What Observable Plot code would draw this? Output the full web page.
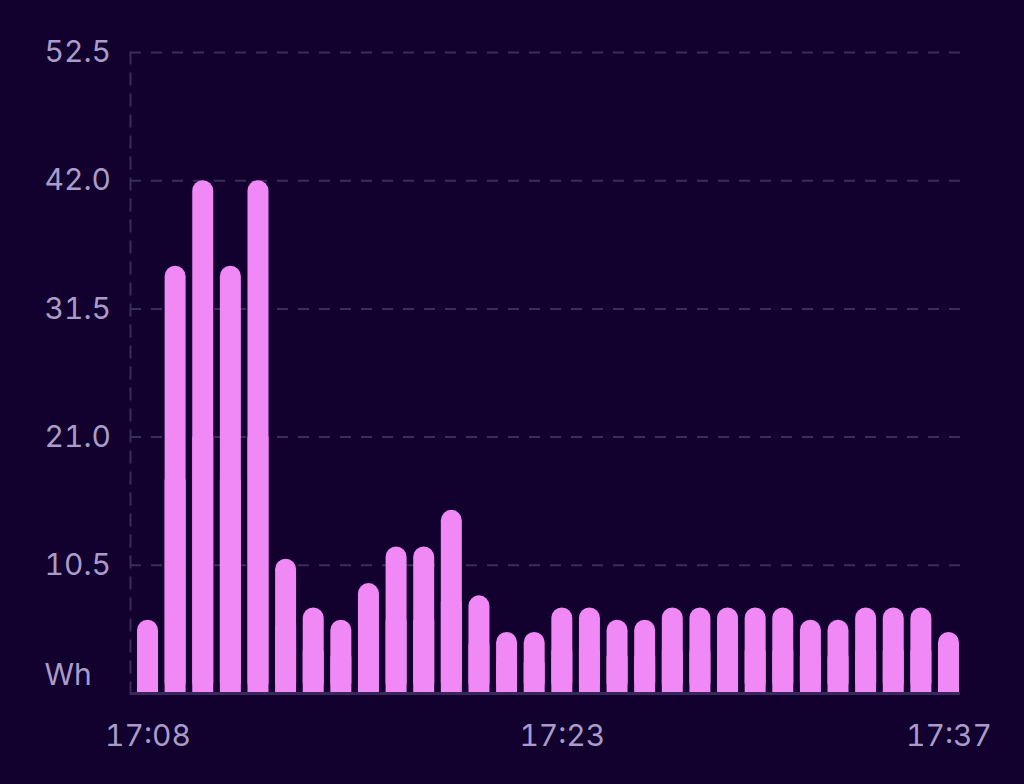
<!DOCTYPE html>
<html>
<head>
<meta charset="utf-8">
<script src="https://cdn.jsdelivr.net/npm/d3@7"></script>
<script src="https://cdn.jsdelivr.net/npm/@observablehq/plot@0.6"></script>
<style>
  html, body { margin: 0; padding: 0; background: #12002e; }
  #chart { width: 1024px; height: 784px; }
  svg { display: block; }
  svg text { font-variant-numeric: tabular-nums; font-feature-settings: "tnum" 1; }
</style>
</head>
<body>
<div id="chart"></div>
<script>
const times = ["17:08","17:09","17:10","17:11","17:12","17:13","17:14","17:15","17:16","17:17",
               "17:18","17:19","17:20","17:21","17:22","17:23","17:24","17:25","17:26","17:27",
               "17:28","17:29","17:30","17:31","17:32","17:33","17:34","17:35","17:36","17:37"];
const energy = [6,35,42,35,42,11,7,6,9,12,12,15,8,5,5,7,7,6,6,7,7,7,7,7,6,6,7,7,7,5];
const yTicks = [10.5, 21.0, 31.5, 42.0, 52.5];
const xTicks = ["17:08", "17:23", "17:37"];
const unit = "Wh";

const data = times.map((t, i) => ({time: t, value: energy[i]}));

const bg = "#12002e";
const barColor = "#f088f6";
const gridColor = "#3c2c5c";
const textColor = "#a99cc8";

const chart = Plot.plot({
  width: 1024,
  height: 784,
  marginLeft: 130,
  marginRight: 64,
  marginTop: 52,
  marginBottom: 91,
  style: {background: bg, fontFamily: "Inter, 'Noto Sans', sans-serif", color: textColor},
  x: {domain: times, paddingInner: 0.24, paddingOuter: 0.145, align: 0.875, round: false},
  y: {domain: [0, 52.5]},
  marks: [
    Plot.frame({anchor: "left", stroke: gridColor, strokeWidth: 2, strokeDasharray: "11,10"}),
    Plot.ruleY(yTicks, {stroke: gridColor, strokeWidth: 2, strokeDasharray: "11,10"}),
    Plot.barY(data, {x: "time", y: "value", fill: barColor, rx: 10.5}),
    Plot.barY(data, {x: "time", y1: 0, y2: d => d.value / 2, fill: barColor}),
    Plot.ruleY([0], {stroke: "#3a275e", strokeWidth: 3}),
    Plot.axisY({ticks: yTicks, tickSize: 0, tickPadding: 0, textAnchor: "start", dx: -86,
                tickFormat: d => d.toFixed(1), fontSize: 30, fill: textColor, label: null}),
    Plot.text([unit], {y: 0, frameAnchor: "left", text: d => d, textAnchor: "start", dx: -86, dy: -18.5,
                fontSize: 30, fill: textColor}),
    Plot.axisX({ticks: xTicks, tickSize: 0, tickPadding: 31, fontSize: 30, fill: textColor, label: null})
  ]
});
document.getElementById("chart").appendChild(chart);
</script>
</body>
</html>
